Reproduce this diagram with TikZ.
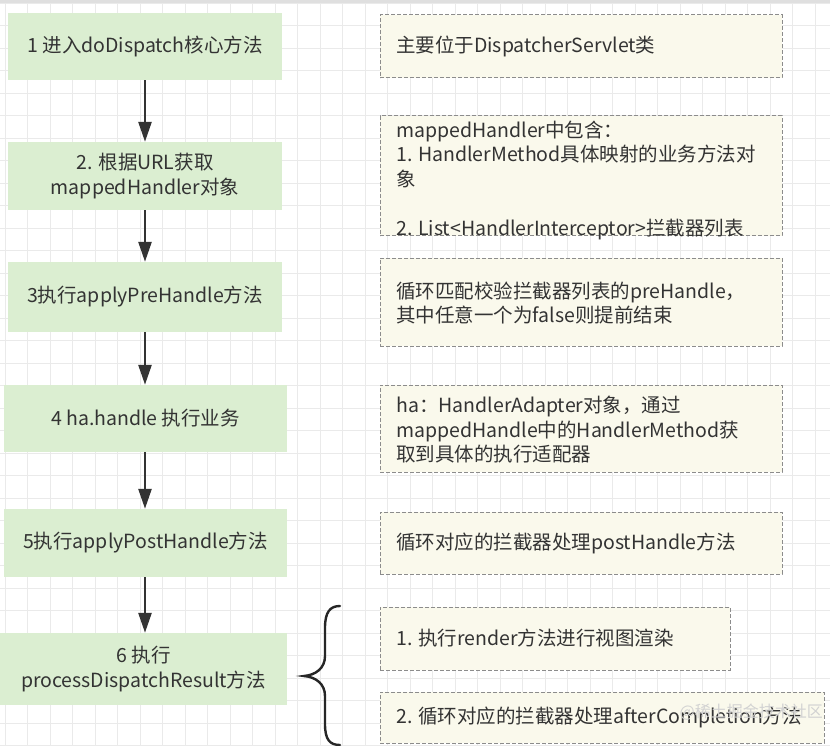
\documentclass[tikz,border=0pt]{standalone}
\usepackage{fontspec}
\setmainfont{Noto Sans CJK SC}
\usetikzlibrary{arrows.meta}
\definecolor{txt}{HTML}{333333}
\definecolor{greenfill}{RGB}{219,238,209}
\definecolor{notefill}{RGB}{250,249,236}
\definecolor{notedraw}{RGB}{140,140,140}
\definecolor{gridc}{RGB}{234,234,234}
\definecolor{arrowc}{HTML}{333333}
\tikzset{
  stepbox/.style={rectangle, fill=greenfill, draw=none, text=txt, align=center,
    font=\fontsize{19.5}{24.5}\selectfont, inner sep=0pt},
  notebox/.style={rectangle, fill=notefill, draw=notedraw, line width=1pt,
    dash pattern=on 4pt off 2pt, inner sep=0pt},
  notetext/.style={anchor=west, text=txt, align=left, inner sep=0pt,
    font=\fontsize{19.5}{24.5}\selectfont},
  flowarrow/.style={draw=arrowc, line width=2.6pt, -{Triangle[width=13pt,length=20pt]}},
  gridline/.style={draw=gridc, line width=0.8pt},
}
\begin{document}
\begin{tikzpicture}[x=1pt,y=-1pt]
\useasboundingbox (0,0) rectangle (830,746);
\fill[white] (0,0) rectangle (830,746);
% grid
\foreach \i in {0,...,36} \draw[gridline] ({5.2+22.5*\i},0) -- ({5.2+22.5*\i},746);
\foreach \j in {0,...,33} \draw[gridline] (0,{3.3+22.5*\j}) -- (830,{3.3+22.5*\j});
\fill[gridc!90!gray] (0,0) rectangle (830,3);

% left step boxes
\node[stepbox, minimum width=274pt, minimum height=67pt] (b1) at (145,46.5) {1 进入doDispatch核心方法};
\node[stepbox, minimum width=274pt, minimum height=68pt] (b2) at (145,176) {2. 根据URL获取\\mappedHandler对象};
\node[stepbox, minimum width=274pt, minimum height=70pt] (b3) at (145,297) {3执行applyPreHandle方法};
\node[stepbox, minimum width=283pt, minimum height=67pt] (b4) at (145.5,418.5) {4 ha.handle 执行业务};
\node[stepbox, minimum width=283pt, minimum height=68pt] (b5) at (145.5,543) {5执行applyPostHandle方法};
\node[stepbox, minimum width=287pt, minimum height=72pt] (b6) at (143.5,669) {6 执行\\processDispatchResult方法};

% arrows
\draw[flowarrow] (b1.south) -- (b1.south |- b2.north);
\draw[flowarrow] (b2.south) -- (b2.south |- b3.north);
\draw[flowarrow] (b3.south) -- (b3.south |- b4.north);
\draw[flowarrow] (b1.south |- b4.south) -- (b1.south |- b5.north);
\draw[flowarrow] (b1.south |- b5.south) -- (b1.south |- b6.north);

% note boxes
\node[notebox, minimum width=402pt, minimum height=63pt] (r1) at (581,46.5) {};
\node[notebox, minimum width=402pt, minimum height=120pt] (r2) at (581,176) {};
\node[notebox, minimum width=402pt, minimum height=88pt] (r3) at (581,302) {};
\node[notebox, minimum width=402pt, minimum height=87pt] (r4) at (581,428.5) {};
\node[notebox, minimum width=402pt, minimum height=62pt] (r5) at (581,543) {};
\node[notebox, minimum width=350pt, minimum height=63pt] (r6a) at (555,638.5) {};
\node[notebox, minimum width=444pt, minimum height=51pt] (r6b) at (602,717.5) {};

\node[notetext] (t1) at (396,46.5) {主要位于DispatcherServlet类};
\node[notetext] (t2) at (396,180) {mappedHandler中包含：\\1. HandlerMethod具体映射的业务方法对\\象\\[24.5pt]2. List<HandlerInterceptor>拦截器列表};
\node[notetext] (t3) at (396,303) {循环匹配校验拦截器列表的preHandle，\\其中任意一个为false则提前结束};
\node[notetext] (t4) at (396,430) {ha：HandlerAdapter对象，通过\\mappedHandle中的HandlerMethod获\\取到具体的执行适配器};
\node[notetext] (t5) at (396,543) {循环对应的拦截器处理postHandle方法};
\node[notetext] (t6a) at (396,638.5) {1. 执行render方法进行视图渲染};
\node[notetext] (t6b) at (396,717.5) {2. 循环对应的拦截器处理afterCompletion方法};

% watermark
\node[anchor=east, text=gray!35, inner sep=0pt, font=\fontsize{16}{18}\selectfont] (wm) at (823,712) {@稀土掘金技术社区};

% brace
\draw[line width=2.4pt, draw=black!85, line cap=round]
  (340,606) .. controls (330,606) and (325,612) .. (325,628)
  -- (325,656) .. controls (325,668) and (316,675) .. (304,676)
  .. controls (316,677) and (325,684) .. (325,696)
  -- (325,724) .. controls (325,740) and (330,745) .. (340,745);
\end{tikzpicture}
\end{document}
